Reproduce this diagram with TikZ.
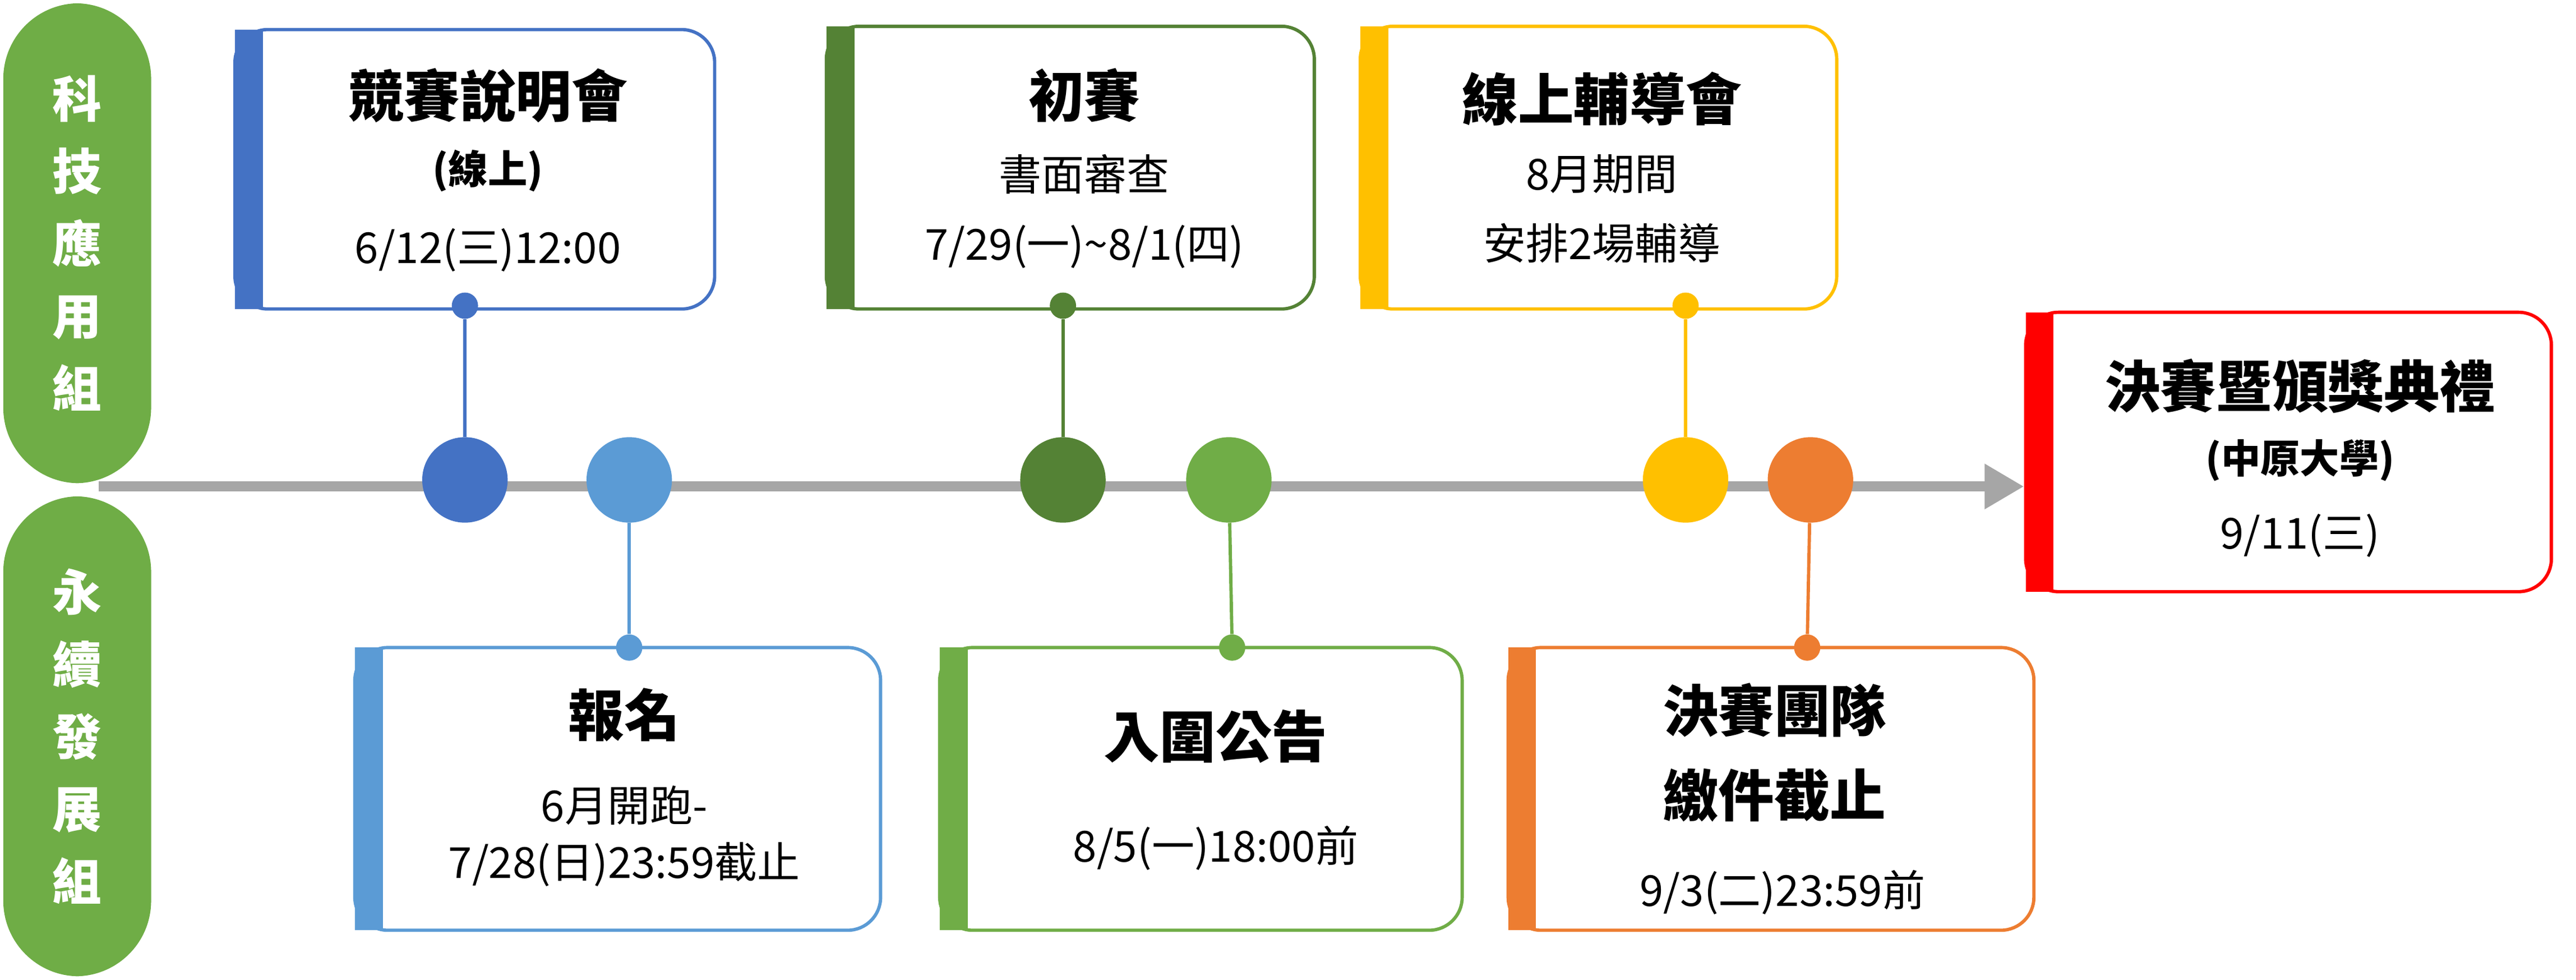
\documentclass[tikz,border=0pt]{standalone}
\usepackage{fontspec}
\setmainfont{Noto Sans CJK TC}
\usetikzlibrary{arrows.meta}
\definecolor{cblue}{HTML}{4472C4}
\definecolor{clblue}{HTML}{5B9BD5}
\definecolor{cdgreen}{HTML}{548235}
\definecolor{cgreen}{HTML}{70AD47}
\definecolor{cyellow}{HTML}{FFC000}
\definecolor{corange}{HTML}{ED7D31}
\definecolor{cred}{HTML}{FF0000}
\definecolor{cpill}{HTML}{6FAD46}
\begin{document}
\begin{tikzpicture}[x=1pt,y=-1pt,
  ttl/.style={font=\fontsize{34}{38}\selectfont\bfseries},
  sub/.style={font=\fontsize{24}{28}\selectfont\bfseries},
  txt/.style={font=\fontsize{26}{30}\selectfont},
  big/.style={circle,fill=#1,minimum size=52pt,inner sep=0pt},
  dot/.style={circle,fill=#1,minimum size=16pt,inner sep=0pt},
  stem/.style={draw=#1,line width=2pt},
  pill/.style={fill=cpill,rounded corners=46pt,text=white,font=\fontsize{30}{40}\selectfont\bfseries,align=center}]
\useasboundingbox (0,0) rectangle (1568,596);
% pills
\fill[cpill,rounded corners=46pt] (2,2) rectangle (92,294);
\fill[cpill,rounded corners=46pt] (2,302) rectangle (92,594);
\node[text=white,font=\fontsize{30}{44}\selectfont\bfseries,align=center] (p1) at (47,148) {科\\技\\應\\用\\組};
\node[text=white,font=\fontsize{30}{44}\selectfont\bfseries,align=center] (p2) at (47,448) {永\\續\\發\\展\\組};
% axis
\coordinate (a0) at (60,296);
\coordinate (a1) at (1232,296);
\draw[line width=6pt,draw=black!35,-{Triangle[length=24pt,width=26pt]}] (a0) -- (a1);
% boxes
\newcommand{\tlbox}[6]{%
  \draw[#5,line width=2pt,rounded corners=20pt] (#1,#2) rectangle (#3,#4);
  \fill[#5] (#1,#2) rectangle (#1+17,#4);
  \coordinate (#6) at (#1,#2);}
\tlbox{143}{18}{435}{188}{cblue}{b1}
\tlbox{503}{16}{800}{188}{cdgreen}{b2}
\tlbox{828}{16}{1118}{188}{cyellow}{b3}
\tlbox{216}{394}{536}{566}{clblue}{b4}
\tlbox{572}{394}{890}{566}{cgreen}{b5}
\tlbox{918}{394}{1238}{566}{corange}{b6}
\tlbox{1233}{190}{1553}{360}{cred}{b7}
% circles and dots
\node[big=cblue] (c1) at (283,292) {};
\node[big=clblue] (c2) at (383,292) {};
\node[big=cdgreen] (c3) at (647,292) {};
\node[big=cgreen] (c4) at (748,292) {};
\node[big=cyellow] (c5) at (1026,292) {};
\node[big=corange] (c6) at (1102,292) {};
\node[dot=cblue] (d1) at (283,186) {};
\node[dot=clblue] (d2) at (383,394) {};
\node[dot=cdgreen] (d3) at (647,186) {};
\node[dot=cgreen] (d4) at (750,394) {};
\node[dot=cyellow] (d5) at (1026,186) {};
\node[dot=corange] (d6) at (1100,394) {};
\draw[stem=cblue] (c1) -- (d1);
\draw[stem=clblue] (c2) -- (d2);
\draw[stem=cdgreen] (c3) -- (d3);
\draw[stem=cgreen] (c4) -- (d4);
\draw[stem=cyellow] (c5) -- (d5);
\draw[stem=corange] (c6) -- (d6);
% texts
\node[ttl] (t1a) at (297,58) {競賽說明會};
\node[sub] (t1b) at (297,104) {(線上)};
\node[txt] (t1c) at (297,152) {6/12(三)12:00};
\node[ttl] (t2a) at (660,58) {初賽};
\node[txt] (t2b) at (660,106) {書面審查};
\node[txt] (t2c) at (660,150) {7/29(一)\textasciitilde8/1(四)};
\node[ttl] (t3a) at (975,60) {線上輔導會};
\node[txt] (t3b) at (975,106) {8月期間};
\node[txt] (t3c) at (975,148) {安排2場輔導};
\node[ttl] (t4a) at (380,435) {報名};
\node[txt] (t4b) at (380,490) {6月開跑-};
\node[txt] (t4c) at (380,526) {7/28(日)23:59截止};
\node[ttl] (t5a) at (740,448) {入圍公告};
\node[txt] (t5b) at (740,516) {8/5(一)18:00前};
\node[ttl] (t6a) at (1080,432) {決賽團隊};
\node[ttl] (t6b) at (1080,484) {繳件截止};
\node[txt] (t6c) at (1085,543) {9/3(二)23:59前};
\node[ttl] (t7a) at (1400,235) {決賽暨頒獎典禮};
\node[sub] (t7b) at (1400,280) {(中原大學)};
\node[txt] (t7c) at (1400,326) {9/11(三)};
\end{tikzpicture}
\end{document}
